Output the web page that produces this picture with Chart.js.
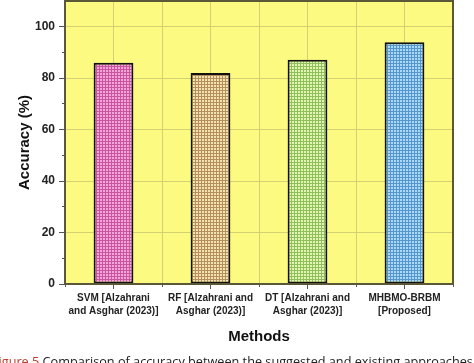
<!DOCTYPE html>
<html>
<head>
<meta charset="utf-8">
<script src="https://cdn.jsdelivr.net/npm/chart.js@4.4.0/dist/chart.umd.min.js"></script>
<style>
  html, body { margin: 0; padding: 0; background: #fff; overflow: hidden; }
  #wrap { position: relative; width: 474px; height: 363px; overflow: hidden; }
  #caption {
    position: absolute; left: -8px; top: 355px; white-space: nowrap; line-height: 1;
    font-family: "Open Sans", sans-serif; font-size: 12.7px; color: #222;
  }
  #caption b { font-weight: normal; color: #c0392b; }
</style>
</head>
<body>
<div id="wrap">
  <canvas id="myChart" width="474" height="363"></canvas>
  <div id="caption"><b>Figure 5</b> Comparison of accuracy between the suggested and existing approaches</div>
</div>
<script>
// chart data
const methods = [
    ['SVM [Alzahrani', 'and Asghar (2023)]'],
    ['RF [Alzahrani and', 'Asghar (2023)]'],
    ['DT [Alzahrani and', 'Asghar (2023)]'],
    ['MHBMO-BRBM', '[Proposed]']
];
const accuracy = [86, 82, 87.2, 94];
const yMajorTicks = [0, 20, 40, 60, 80, 100];
const yMinorTicks = [0, 10, 20, 30, 40, 50, 60, 70, 80, 90, 100];

// little checkered fill, like the hatching in the figure
function checker(base, line) {
    const c = document.createElement('canvas');
    c.width = 3; c.height = 3;
    const g = c.getContext('2d');
    g.fillStyle = base;
    g.fillRect(0, 0, 3, 3);
    g.fillStyle = line;
    g.fillRect(0, 0, 3, 1);
    g.fillRect(0, 0, 1, 3);
    return g.createPattern(c, 'repeat');
}

const fills = [
    checker('#f3a6dc', '#c9559f'),
    checker('#f4e2b2', '#b38f5c'),
    checker('#e2f8b2', '#8fbf5c'),
    checker('#acd9f8', '#5597cc')
];

const plotFrame = {
    id: 'plotFrame',
    beforeDraw(chart) {
        const { ctx, chartArea: a } = chart;
        ctx.save();
        ctx.fillStyle = '#fdfa82';
        ctx.fillRect(a.left, a.top, a.right - a.left, a.bottom - a.top);
        ctx.restore();
    },
    afterDatasetsDraw(chart) {
        const { ctx, chartArea: a } = chart;
        ctx.save();
        ctx.strokeStyle = '#5b5838';
        ctx.lineWidth = 2;
        ctx.strokeRect(a.left, a.top, a.right - a.left, a.bottom - a.top);
        ctx.restore();
    }
};

const gridColor = '#d4d074';
const tickFont = { family: 'Liberation Sans, Arial', weight: 'bold' };
const noPad = (s) => { s.paddingTop = 0; s.paddingBottom = 0; s.paddingLeft = 0; s.paddingRight = 0; };

new Chart(document.getElementById('myChart'), {
    type: 'bar',
    data: {
        labels: methods,
        datasets: [{
            data: accuracy,
            backgroundColor: fills,
            borderColor: '#111',
            borderWidth: 2,
            borderSkipped: false,
            barPercentage: 0.41,
            categoryPercentage: 1
        }]
    },
    options: {
        responsive: false,
        animation: false,
        devicePixelRatio: 1,
        layout: { padding: { top: 1, right: 21, left: 0, bottom: 0 } },
        plugins: { legend: { display: false }, tooltip: { enabled: false } },
        scales: {
            x: {
                weight: 1,
                grid: { offset: false, color: gridColor, tickColor: '#555', tickLength: 5 },
                border: { display: false },
                ticks: { color: '#222', padding: 3, maxRotation: 0, autoSkip: false,
                          font: { ...tickFont, size: 10, lineHeight: 1.3 } },
                title: { display: true, text: 'Methods', color: '#111',
                         font: { ...tickFont, size: 15, lineHeight: 1.2 }, padding: { top: 0, bottom: 17 } },
                afterFit: (s) => { s.height = 79; noPad(s); }
            },
            x2: {
                position: 'bottom',
                weight: 0,
                grid: { offset: true, color: gridColor, tickColor: '#555', tickLength: 3 },
                border: { display: false },
                ticks: { display: false },
                afterFit: (s) => { s.height = 0; noPad(s); }
            },
            y: {
                weight: 1,
                min: 0,
                max: 110,
                afterBuildTicks: (s) => { s.ticks = yMajorTicks.map(v => ({ value: v })); },
                grid: { color: gridColor, tickColor: '#555', tickLength: 6 },
                border: { display: false },
                ticks: { color: '#222', padding: 4, font: { ...tickFont, size: 12 } },
                title: { display: true, text: 'Accuracy (%)', color: '#111',
                         font: { ...tickFont, size: 15, lineHeight: 1.2 }, padding: { top: 16, bottom: 0 } },
                afterFit: (s) => { s.width = 65; noPad(s); }
            },
            y2: {
                position: 'left',
                weight: 0,
                min: 0,
                max: 110,
                afterBuildTicks: (s) => { s.ticks = yMinorTicks.map(v => ({ value: v })); },
                grid: { drawOnChartArea: false, tickColor: '#555', tickLength: 3 },
                border: { display: false },
                ticks: { display: false },
                afterFit: (s) => { s.width = 0; noPad(s); }
            }
        }
    },
    plugins: [plotFrame]
});
</script>
</body>
</html>
